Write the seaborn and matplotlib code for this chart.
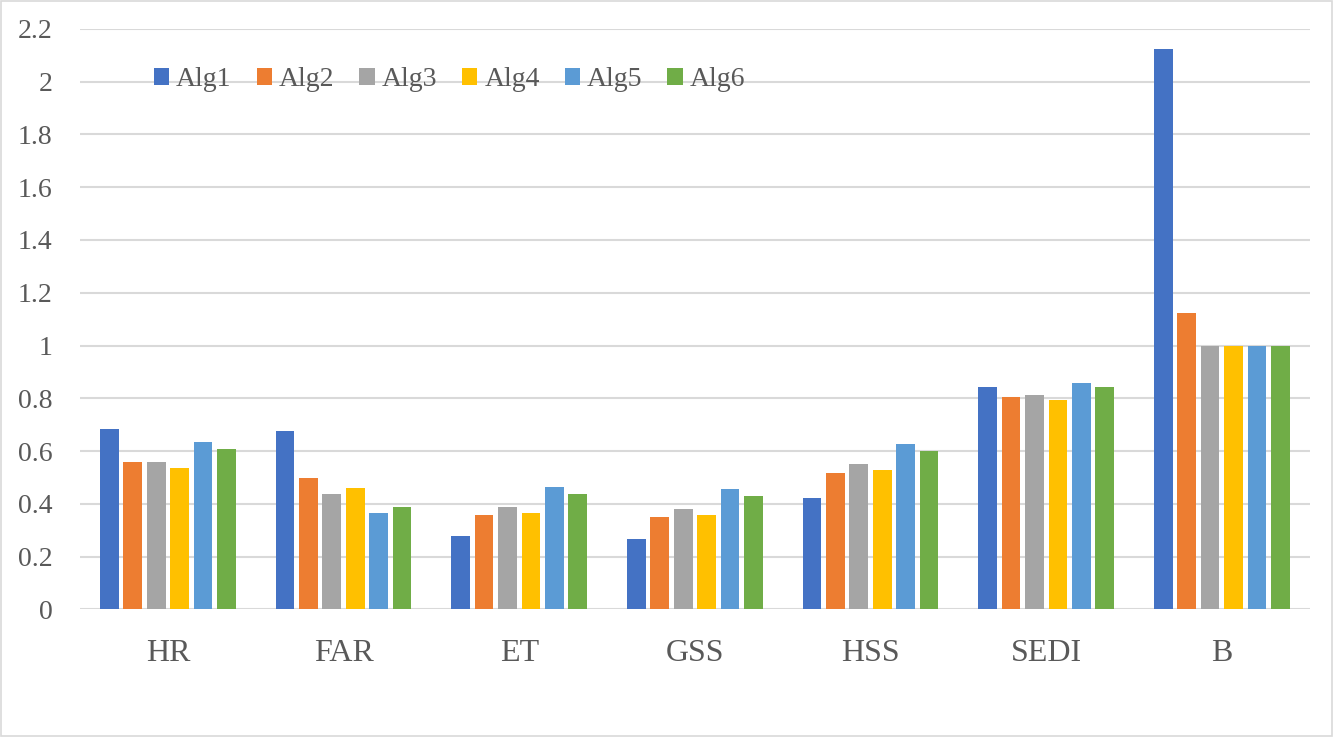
import matplotlib.pyplot as plt
import matplotlib.patches as mpatches
import seaborn as sns
import pandas as pd

metrics = ['HR', 'FAR', 'ET', 'GSS', 'HSS', 'SEDI', 'B']
algs = ['Alg1', 'Alg2', 'Alg3', 'Alg4', 'Alg5', 'Alg6']

alg1 = [0.683, 0.675, 0.277, 0.266, 0.421, 0.842, 2.122]
alg2 = [0.558, 0.497, 0.357, 0.349, 0.516, 0.804, 1.122]
alg3 = [0.558, 0.436, 0.387, 0.380, 0.550, 0.811, 1.000]
alg4 = [0.535, 0.459, 0.364, 0.357, 0.527, 0.795, 1.000]
alg5 = [0.633, 0.364, 0.463, 0.455, 0.626, 0.857, 1.000]
alg6 = [0.607, 0.387, 0.436, 0.429, 0.599, 0.842, 1.000]

colors = ['#4472C4', '#ED7D31', '#A5A5A5', '#FFC000', '#5B9BD5', '#70AD47']

rows = []
for name, vals in zip(algs, [alg1, alg2, alg3, alg4, alg5, alg6]):
    for m, v in zip(metrics, vals):
        rows.append({'metric': m, 'alg': name, 'value': v})
df = pd.DataFrame(rows)

sns.set_style('white')
plt.rcParams['font.family'] = ['Liberation Serif', 'DejaVu Serif']

fig = plt.figure(figsize=(13.35, 7.37), dpi=100)
ax = fig.add_axes([0.06, 0.173, 0.921, 0.788])

sns.barplot(data=df, x='metric', y='value', hue='alg', palette=colors,
            width=0.80, gap=0.2, linewidth=0, saturation=1, ax=ax)

ax.set_ylim(0, 2.2)
ax.set_xlim(-0.5, 6.5)
ax.set_yticks([i / 10 for i in range(0, 23, 2)])
ax.set_yticklabels(['0', '0.2', '0.4', '0.6', '0.8', '1', '1.2', '1.4', '1.6', '1.8', '2', '2.2'])
ax.yaxis.grid(True, color='#d9d9d9', linewidth=1.5)
ax.set_axisbelow(True)
for s in ax.spines.values():
    s.set_visible(False)
ax.tick_params(axis='y', labelsize=20, colors='#595959', length=0, pad=20)
ax.tick_params(axis='x', labelsize=23, colors='#595959', length=0, pad=21)
ax.set_xlabel('')
ax.set_ylabel('')

ax.legend(loc='center left', bbox_to_anchor=(0.060, 0.912), ncol=6, frameon=False,
          fontsize=20, handlelength=0.55, handleheight=0.55, handletextpad=0.25,
          columnspacing=0.9, borderpad=0, borderaxespad=0, labelcolor='#595959')

fig.patches.append(mpatches.Rectangle((0.001, 0.002), 0.997, 0.996, transform=fig.transFigure,
                                      fill=False, edgecolor='#d9d9d9', linewidth=1.2))

plt.savefig('out.png', dpi=100)
plt.close()
